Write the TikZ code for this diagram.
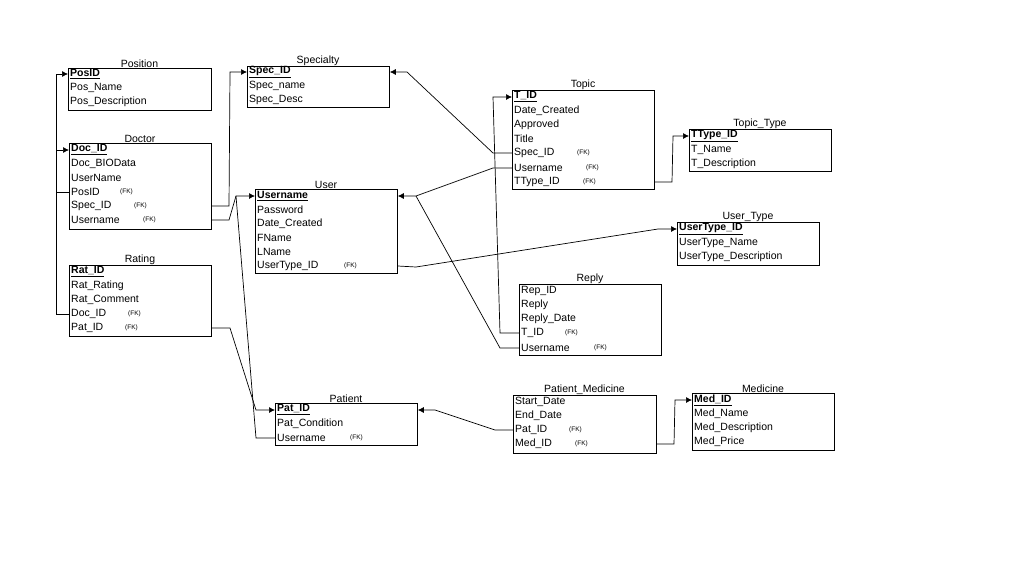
\documentclass[tikz,border=0pt]{standalone}
\usepackage{fontspec}
\setmainfont{Liberation Sans}
\usetikzlibrary{arrows.meta}
\begin{document}
\begin{tikzpicture}[x=1pt,y=-1pt,
  box/.style={draw,line width=0.8pt,inner sep=0},
  ttl/.style={anchor=south,inner sep=0,font=\fontsize{10.5}{12}\selectfont},
  row/.style={anchor=west,inner sep=0,font=\fontsize{10.5}{12}\selectfont},
  fk/.style={anchor=west,inner sep=0,font=\fontsize{6.5}{8}\selectfont},
  con/.style={line width=0.7pt},
  arr/.style={con,-{Latex[length=6pt,width=6pt]}}]
\useasboundingbox (0,0) rectangle (1024,576);
\newcommand\key[1]{\underline{\textbf{#1}}}
% Position
\draw[line width=0.8pt] (68,68) rectangle (211,110);
\node[box,draw=none,minimum width=143pt,minimum height=42pt,anchor=north west] (pos) at (68,68) {};
\node[ttl] (posT) at (139.5,68) {Position};
\node[row] (posID) at (70,74) {\key{PosID}};
\node[row] (posN) at (70,88) {Pos\_Name};
\node[row] (posD) at (70,102) {Pos\_Description};
% Doctor
\node[box,minimum width=142pt,minimum height=86pt,anchor=north west] (doc) at (69,143) {};
\node[ttl] (docT) at (140,143) {Doctor};
\node[row] (docID) at (71,150) {\key{Doc\_ID}};
\node[row] (docB) at (71,164) {Doc\_BIOData};
\node[row] (docU) at (71,178) {UserName};
\node[row] (docP) at (71,192) {PosID}; \node[fk] (docPf) at (120,192) {(FK)};
\node[row] (docS) at (71,206) {Spec\_ID}; \node[fk] (docSf) at (134,206) {(FK)};
\node[row] (docN) at (71,220) {Username}; \node[fk] (docNf) at (143,220) {(FK)};
% Rating
\node[box,minimum width=142pt,minimum height=71pt,anchor=north west] (rat) at (69,265) {};
\node[ttl] (ratT) at (140,265) {Rating};
\node[row] (ratID) at (71,272) {\key{Rat\_ID}};
\node[row] (ratR) at (71,286) {Rat\_Rating};
\node[row] (ratC) at (71,300) {Rat\_Comment};
\node[row] (ratD) at (71,314) {Doc\_ID}; \node[fk] (ratDf) at (128,314) {(FK)};
\node[row] (ratP) at (71,328) {Pat\_ID}; \node[fk] (ratPf) at (125,328) {(FK)};
% Specialty
\node[box,minimum width=142pt,minimum height=41pt,anchor=north west] (spec) at (247,66) {};
\node[ttl] (specT) at (318,66) {Specialty};
\node[row] (specID) at (249,72) {\key{Spec\_ID}};
\node[row] (specN) at (249,86) {Spec\_name};
\node[row] (specD) at (249,100) {Spec\_Desc};
% User
\node[box,minimum width=142pt,minimum height=84pt,anchor=north west] (usr) at (255,189) {};
\node[ttl] (usrT) at (326,189) {User};
\node[row] (usrID) at (257,196) {\key{Username}};
\node[row] (usrP) at (257,210) {Password};
\node[row] (usrD) at (257,224) {Date\_Created};
\node[row] (usrF) at (257,238) {FName};
\node[row] (usrL) at (257,252) {LName};
\node[row] (usrT2) at (257,266) {UserType\_ID}; \node[fk] (usrTf) at (344,266) {(FK)};
% Patient
\node[box,minimum width=142pt,minimum height=42pt,anchor=north west] (pat) at (275,403) {};
\node[ttl] (patT) at (346,403) {Patient};
\node[row] (patID) at (277,410) {\key{Pat\_ID}};
\node[row] (patC) at (277,424) {Pat\_Condition};
\node[row] (patU) at (277,438) {Username}; \node[fk] (patUf) at (350,438) {(FK)};
% Topic
\node[box,minimum width=142pt,minimum height=99pt,anchor=north west] (top) at (512,90) {};
\node[ttl] (topT) at (583,90) {Topic};
\node[row] (topID) at (514,97) {\key{T\_ID}};
\node[row] (topD) at (514,111) {Date\_Created};
\node[row] (topA) at (514,125) {Approved};
\node[row] (topTi) at (514,139) {Title};
\node[row] (topS) at (514,153) {Spec\_ID}; \node[fk] (topSf) at (577,153) {(FK)};
\node[row] (topU) at (514,168) {Username}; \node[fk] (topUf) at (586,168) {(FK)};
\node[row] (topTT) at (514,182) {TType\_ID}; \node[fk] (topTTf) at (583,182) {(FK)};
% Topic_Type
\node[box,minimum width=142pt,minimum height=42pt,anchor=north west] (tt) at (689,129) {};
\node[ttl] (ttT) at (760,129) {Topic\_Type};
\node[row] (ttID) at (691,136) {\key{TType\_ID}};
\node[row] (ttN) at (691,150) {T\_Name};
\node[row] (ttD) at (691,164) {T\_Description};
% User_Type
\node[box,minimum width=142pt,minimum height=43pt,anchor=north west] (ut) at (677,222) {};
\node[ttl] (utT) at (748,222) {User\_Type};
\node[row] (utID) at (679,229) {\key{UserType\_ID}};
\node[row] (utN) at (679,243) {UserType\_Name};
\node[row] (utD) at (679,257) {UserType\_Description};
% Reply
\node[box,minimum width=142pt,minimum height=71pt,anchor=north west] (rep) at (519,284) {};
\node[ttl] (repT) at (590,284) {Reply};
\node[row] (repID) at (521,291) {Rep\_ID};
\node[row] (repR) at (521,305) {Reply};
\node[row] (repD) at (521,319) {Reply\_Date};
\node[row] (repT2) at (521,333) {T\_ID}; \node[fk] (repTf) at (565,333) {(FK)};
\node[row] (repU) at (521,348) {Username}; \node[fk] (repUf) at (594,348) {(FK)};
% Patient_Medicine
\node[box,minimum width=143pt,minimum height=58pt,anchor=north west] (pm) at (513,395) {};
\node[ttl] (pmT) at (584.5,395) {Patient\_Medicine};
\node[row] (pmS) at (515,402) {Start\_Date};
\node[row] (pmE) at (515,416) {End\_Date};
\node[row] (pmP) at (515,430) {Pat\_ID}; \node[fk] (pmPf) at (569,430) {(FK)};
\node[row] (pmM) at (515,444) {Med\_ID}; \node[fk] (pmMf) at (575,444) {(FK)};
% Medicine
\node[box,minimum width=142pt,minimum height=57pt,anchor=north west] (med) at (692,393) {};
\node[ttl] (medT) at (763,393) {Medicine};
\node[row] (medID) at (694,400) {\key{Med\_ID}};
\node[row] (medN) at (694,414) {Med\_Name};
\node[row] (medD) at (694,428) {Med\_Description};
\node[row] (medP) at (694,442) {Med\_Price};
% connectors
\draw[arr] (docP.west -| doc.west) -- (56,192) -- (56,74) -- (posID.west -| pos.west);
\draw[arr] (ratD.west -| rat.west) -- (56,314) -- (56,150) -- (docID.west -| doc.west);
\draw[arr] (docS.west -| doc.east) -- (229,206) -- (230,72) -- (specID.west -| spec.west);
\draw[arr] (docN.west -| doc.east) -- (229,220) -- (236,196) -- (usrID.west -| usr.west);
\draw[con] (236,196) -- (256,438) -- (patU.west -| pat.west);
\draw[arr] (ratP.west -| rat.east) -- (230,328) -- (256,410) -- (patID.west -| pat.west);
\draw[arr] (topS.west -| top.west) -- (493,153) -- (407,72) -- (specID.west -| spec.east);
\draw[arr] (topU.west -| top.west) -- (493,168) -- (416,196) -- (usrID.west -| usr.east);
\draw[con] (repU.west -| rep.west) -- (500,348) -- (416,196);
\draw[arr] (repT2.west -| rep.west) -- (500,333) -- (493,97) -- (topID.west -| top.west);
\draw[arr] (topTT.west -| top.east) -- (672,182) -- (673,136) -- (ttID.west -| tt.west);
\draw[arr] (usrT2.west -| usr.east) -- (416,267) -- (658,229) -- (utID.west -| ut.west);
\draw[arr] (pmP.west -| pm.west) -- (495,430) -- (435,410) -- (patID.west -| pat.east);
\draw[arr] (pmM.west -| pm.east) -- (674,444) -- (675,400) -- (medID.west -| med.west);
\end{tikzpicture}
\end{document}
